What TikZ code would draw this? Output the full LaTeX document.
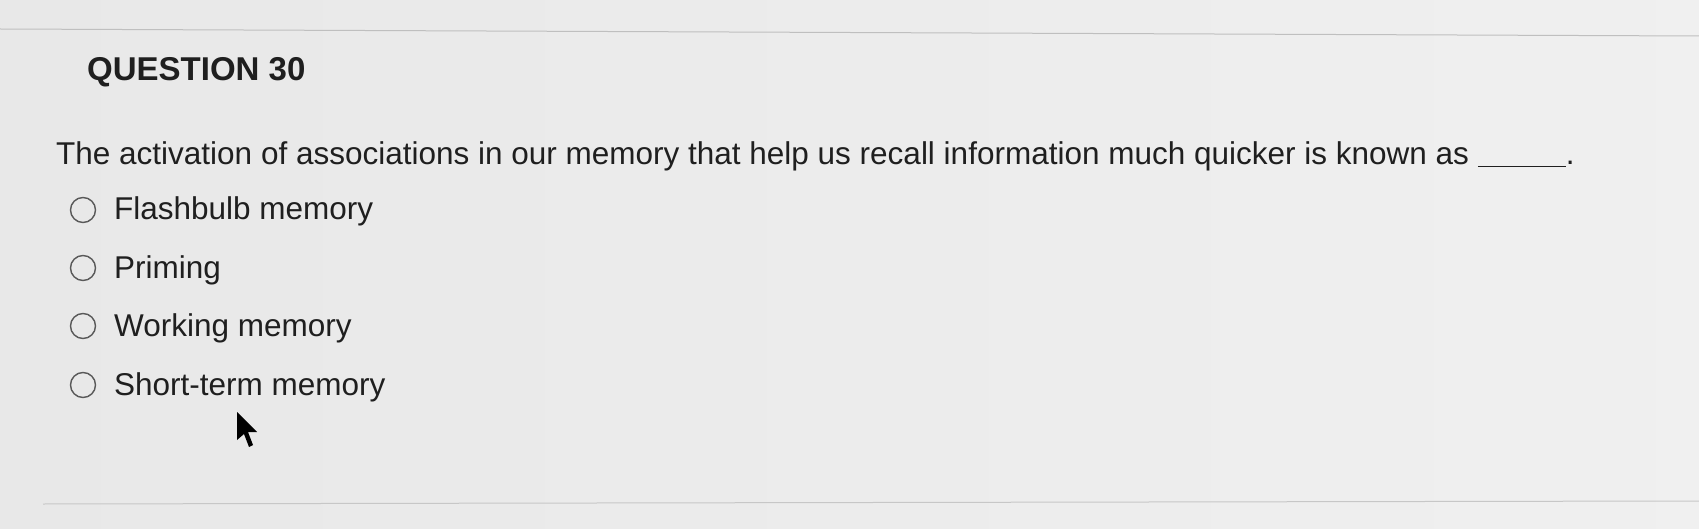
\documentclass[tikz,border=0pt]{standalone}
\usepackage{fontspec}
\setmainfont{Liberation Sans}
\begin{document}
\begin{tikzpicture}[x=1pt,y=-1pt,
  txt/.style={anchor=base west,inner sep=0pt,text=black!88,font=\fontsize{31.5}{36}\selectfont},
  radio/.style={circle,draw=black!65,line width=1.4pt,minimum size=25pt,inner sep=0pt}]
\shade[left color=black!9,right color=black!6] (0,0) rectangle (1699,529);
\useasboundingbox (0,0) rectangle (1699,529);
\draw[black!25,line width=1pt] (0,29) -- (1699,36);
\draw[black!22,line width=1pt] (43,504) -- (1699,501);
\node[txt,font=\bfseries\fontsize{33}{36}\selectfont] (q) at (87,81) {QUESTION 30};
\node[txt] (stem) at (56,165) {The activation of associations in our memory that help us recall information much quicker is known as \underline{\hspace{88pt}}.};
\foreach \y/\t [count=\i] in {220/Flashbulb memory,278/Priming,336/Working memory,395/Short-term memory}{
  \node[radio] (r\i) at (83,\y-10) {};
  \node[txt] (o\i) at (114,\y) {\t};
}
\fill[black] (237,412) -- (237,440) -- (244,434) -- (249,447) -- (253,445) -- (248,432) -- (257,432) -- cycle;
\end{tikzpicture}
\end{document}
